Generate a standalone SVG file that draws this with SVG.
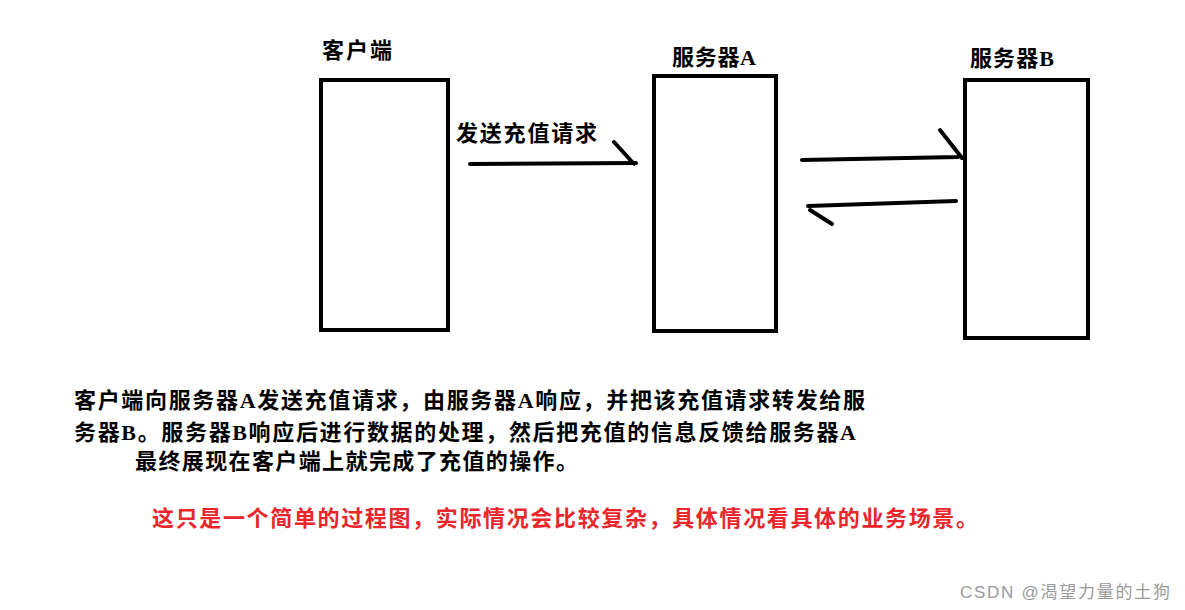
<svg xmlns="http://www.w3.org/2000/svg" width="1185" height="610" viewBox="0 0 1185 610">
<style>
.box{fill:none;stroke:#000;stroke-width:4}
.ln{stroke:#000;stroke-width:4;stroke-linecap:round;fill:none}
text{font-family:"Liberation Serif","Noto Sans CJK SC",serif;font-size:22px;font-weight:bold;fill:#000}
.red{fill:#e8262b}
.wm{font-family:"Liberation Sans","Noto Sans CJK SC",sans-serif;font-weight:normal;font-size:17px;fill:#999}
</style>
<rect width="1185" height="610" fill="#fff"/>
<g id="client"><rect class="box" x="321" y="80" width="127" height="250"/><text x="322" y="58" textLength="70">客户端</text></g>
<g id="serverA"><rect class="box" x="654" y="76" width="122" height="255"/><text x="672" y="65" textLength="84">服务器A</text></g>
<g id="serverB"><rect class="box" x="965" y="80" width="123" height="258"/><text x="970" y="66" textLength="84">服务器B</text></g>
<g id="connectors">
<path class="ln" d="M470 164 L636 163 M614 142 L634 164"/>
<path class="ln" d="M802 160 L958 157 M940 130 L962 158"/>
<path class="ln" d="M808 206 L956 201 M810 210 L832 224"/>
<text x="456" y="141" textLength="141">发送充值请求</text>
</g>
<text x="74" y="408" textLength="791">客户端向服务器A发送充值请求，由服务器A响应，并把该充值请求转发给服</text>
<text x="74" y="440" textLength="782">务器B。服务器B响应后进行数据的处理，然后把充值的信息反馈给服务器A</text>
<text x="135" y="469" textLength="443">最终展现在客户端上就完成了充值的操作。</text>
<text class="red" x="152" y="526" textLength="826">这只是一个简单的过程图，实际情况会比较复杂，具体情况看具体的业务场景。</text>
<text class="wm" x="960" y="598" textLength="210">CSDN @渴望力量的土狗</text>
</svg>
